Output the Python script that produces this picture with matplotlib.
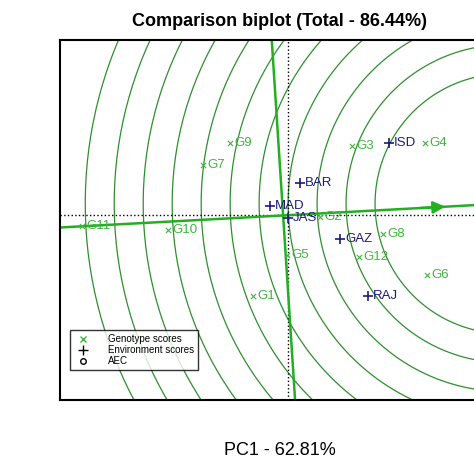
import numpy as np
import matplotlib.pyplot as plt
from matplotlib.lines import Line2D

plt.rcParams['font.family'] = ['Liberation Sans', 'DejaVu Sans']

gen_names = ["G1", "G2", "G3", "G4", "G5", "G6", "G7", "G8", "G9", "G10", "G11", "G12"]
gen_x = [-0.70, 0.64, 1.28, 2.74, -0.02, 2.78, -1.70, 1.90, -1.16, -2.40, -4.12, 1.42]
gen_y = [-1.62, -0.04, 1.38, 1.44, -0.80, -1.20, 1.00, -0.38, 1.44, -0.30, -0.22, -0.84]

env_names = ["ISD", "BAR", "MAD", "JAS", "GAZ", "RAJ"]
env_x = [2.02, 0.24, -0.36, 0.00, 1.04, 1.60]
env_y = [1.44, 0.64, 0.18, -0.06, -0.48, -1.62]

aec_slope = 0.054
ideal = (4.34, 0.23)
radii = np.arange(2.6, 8.6, 0.58)

gcol = "#3fb53f"
ecol = "#1c1c78"

fig = plt.figure(figsize=(4.74, 4.74), dpi=100)
ax = fig.add_axes([0.127, 0.156, 1.008, 0.759])
ax.set_xlim(-4.56, 5.0)
ax.set_ylim(-3.7, 3.5)
ax.set_aspect("equal")

t = np.linspace(0, 2 * np.pi, 400)
for r in radii:
    ax.plot(ideal[0] + r * np.cos(t), ideal[1] + r * np.sin(t), color="#2f8f2f", lw=0.9)

ax.axhline(0, color="black", ls=":", lw=1)
ax.axvline(0, color="black", ls=":", lw=1)

xs = np.array([-5, 6])
ax.plot(xs, aec_slope * xs, color="#22b022", lw=1.8)
ax.annotate("", xy=(3.2, 3.2 * aec_slope), xytext=(2.6, 2.6 * aec_slope),
            arrowprops=dict(arrowstyle="-|>", color="#22b022", lw=1.8, mutation_scale=18))
ys = np.array([-4, 4])
ax.plot(-0.1 - aec_slope * ys * 1.2, ys, color="#22b022", lw=1.8)

ax.scatter(gen_x, gen_y, marker="x", color=gcol, s=14, lw=0.8, zorder=3)
for n, x, y in zip(gen_names, gen_x, gen_y):
    ax.text(x + 0.08, y, n, color=gcol, fontsize=9.5, va="center", zorder=3)
ax.scatter(env_x, env_y, marker="+", color=ecol, s=50, lw=1.2, zorder=4)
for n, x, y in zip(env_names, env_x, env_y):
    ax.text(x + 0.1, y, n, color=ecol, fontsize=9.5, va="center", zorder=4)

ax.set_xticks([])
ax.set_yticks([])
for s in ax.spines.values():
    s.set_linewidth(1.5)

handles = [Line2D([], [], marker="x", ls="", color=gcol, ms=4),
           Line2D([], [], marker="+", ls="", color="black", ms=7),
           Line2D([], [], marker="o", ls="", mfc="none", color="black", ms=4)]
leg = ax.legend(handles, ["Genotype scores", "Environment scores", "AEC"],
                loc="lower left", bbox_to_anchor=(0.01, 0.07), fontsize=7,
                frameon=True, fancybox=False, edgecolor="black",
                handletextpad=1.5, labelspacing=0.1, borderpad=0.4)
leg.get_frame().set_linewidth(1)

fig.text(0.59, 0.955, "Comparison biplot (Total - 86.44%)", ha="center", va="center",
         fontsize=13, fontweight="bold")
fig.text(0.59, 0.05, "PC1 - 62.81%", ha="center", va="center", fontsize=13)

fig.savefig("out.png", dpi=100)
